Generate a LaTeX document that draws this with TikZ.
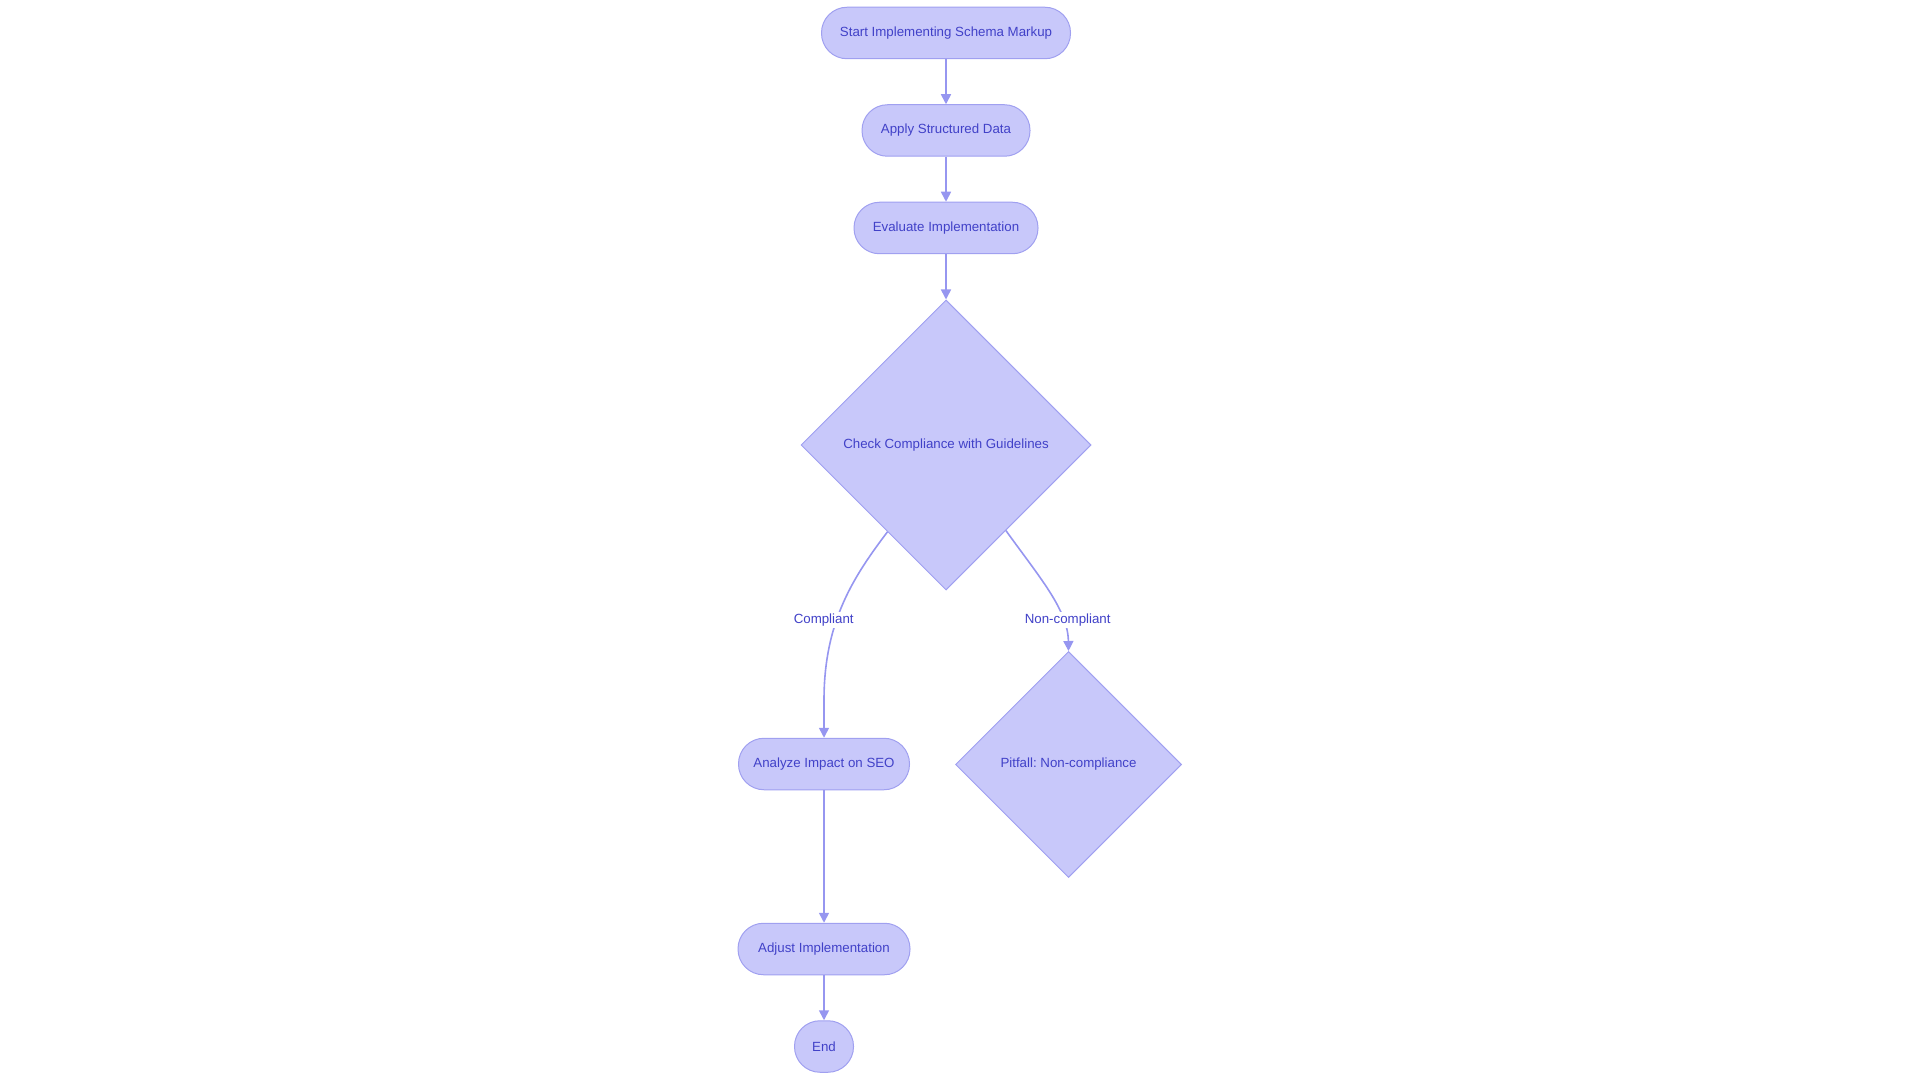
\documentclass[tikz,border=0pt]{standalone}
\usepackage{fontspec}
\setmainfont{Liberation Sans}
\usetikzlibrary{shapes.geometric,arrows.meta}
\frenchspacing
\definecolor{nodefill}{RGB}{200,200,250}
\definecolor{nodeline}{RGB}{160,160,240}
\definecolor{edgecol}{RGB}{150,150,240}
\definecolor{txt}{RGB}{65,65,200}
\tikzset{
  stadium/.style={draw=nodeline, fill=nodefill, line width=1pt, rounded corners=25.5pt,
    minimum height=51.5pt, inner sep=0pt, text=txt, font=\fontsize{13.3pt}{15pt}\selectfont},
  decision/.style={draw=nodeline, fill=nodefill, line width=1pt, diamond, aspect=1, inner sep=0pt,
    text=txt, font=\fontsize{13.3pt}{15pt}\selectfont},
  edgelabel/.style={fill=white, inner sep=2pt, text=txt, font=\fontsize{13.3pt}{15pt}\selectfont},
  flow/.style={draw=edgecol, line width=1.6pt, -{Triangle[length=10pt,width=10pt]}},
}
\begin{document}
\begin{tikzpicture}[x=1pt,y=-1pt]
\useasboundingbox (0,0) rectangle (1920,1083);
\node[stadium, minimum width=249pt] (start) at (946,33) {Start Implementing Schema Markup};
\node[stadium, minimum width=168pt] (apply) at (946,130.5) {Apply Structured Data};
\node[stadium, minimum width=184pt] (eval) at (946,228) {Evaluate Implementation};
\node[decision, minimum width=290pt, minimum height=290pt] (check) at (946,445) {Check Compliance with Guidelines};
\node[stadium, minimum width=171pt] (analyze) at (824,764) {Analyze Impact on SEO};
\node[decision, minimum width=226pt, minimum height=226pt] (pitfall) at (1068.5,764.5) {Pitfall: Non-compliance};
\node[stadium, minimum width=172pt] (adjust) at (824,949) {Adjust Implementation};
\node[stadium, minimum width=59pt] (end) at (824,1046.5) {End};

\draw[flow] (start.south) -- (apply.north);
\draw[flow] (apply.south) -- (eval.north);
\draw[flow] (eval.south) -- (check.north);
\draw[flow] (check.236) .. controls (855,575) and (824,620) .. (824,700) -- (analyze.north);
\draw[flow] (check.305) .. controls (1040,578) and (1068,610) .. (pitfall.north);
\draw[flow] (analyze.south) -- (adjust.north);
\draw[flow] (adjust.south) -- (end.north);

\node[edgelabel] (lcomp) at (823.7,620) {Compliant};
\node[edgelabel] (lnon) at (1067.7,620) {Non-compliant};
\end{tikzpicture}
\end{document}
